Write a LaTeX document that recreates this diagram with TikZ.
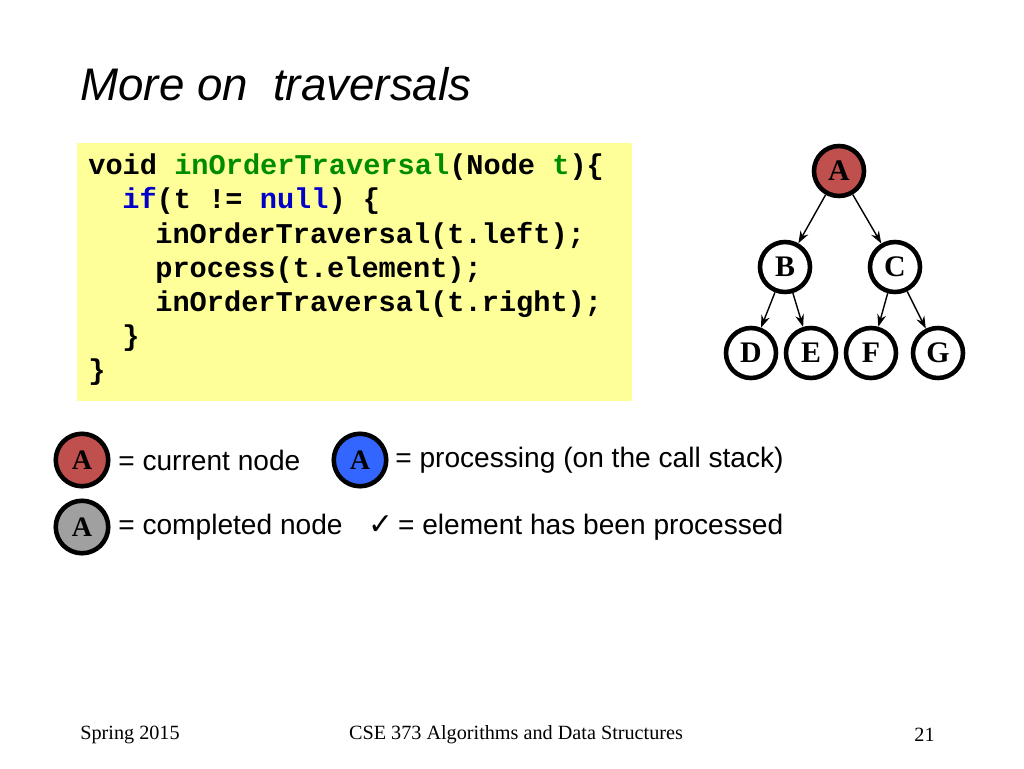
\documentclass[tikz,border=0pt]{standalone}
\usepackage{fontspec}
\setmainfont{Liberation Serif}
\setsansfont{Liberation Sans}
\setmonofont{Liberation Mono}
\usetikzlibrary{arrows.meta, positioning}
\definecolor{curred}{RGB}{192,80,77}
\definecolor{procblue}{RGB}{51,102,255}
\definecolor{donegray}{RGB}{160,160,160}
\definecolor{codebg}{RGB}{255,255,153}
\definecolor{kwblue}{RGB}{0,0,200}
\definecolor{fngreen}{RGB}{0,140,0}
\newcommand{\fn}[1]{\textcolor{fngreen}{#1}}
\newcommand{\kw}[1]{\textcolor{kwblue}{#1}}
\begin{document}
\begin{tikzpicture}[x=0.02cm, y=-0.02cm,
    tnode/.style={circle, draw=black, line width=2.6pt, fill=white, minimum size=1.0cm, inner sep=0pt, font=\fontsize{17}{17}\selectfont\bfseries},
    lnode/.style={tnode, minimum size=1.05cm, font=\fontsize{16}{16}\selectfont\bfseries},
    codeline/.style={anchor=west, inner sep=0pt, font=\fontsize{16.3}{19}\selectfont\ttfamily\bfseries},
    legend/.style={anchor=west, inner sep=0pt, font=\fontsize{16}{19}\selectfont\sffamily},
    edge/.style={-{Stealth[length=7pt, width=5pt]}, thick}
]
    \useasboundingbox (0,0) rectangle (1024,768);

    % title
    \node[anchor=west, inner sep=0pt, font=\fontsize{26}{28}\selectfont\sffamily\itshape] (title) at (80,84) {More on\ \ traversals};

    % code box
    \fill[codebg] (77,143) rectangle (632,401);
    \node[codeline] (c1) at (88,167) {void \fn{inOrderTraversal}(Node \fn{t})\{};
    \node[codeline] (c2) at (122,201) {\kw{if}(t != \kw{null}) \{};
    \node[codeline] (c3) at (155,236) {inOrderTraversal(t.left);};
    \node[codeline] (c4) at (155,270) {process(t.element);};
    \node[codeline] (c5) at (155,304) {inOrderTraversal(t.right);};
    \node[codeline] (c6) at (122,338) {\}};
    \node[codeline] (c7) at (88,372) {\}};

    % tree
    \node[tnode, fill=curred] (a) at (839,171) {A};
    \node[tnode] (b) at (785,267) {B};
    \node[tnode] (c) at (895,267) {C};
    \node[tnode] (d) at (751,353) {D};
    \node[tnode] (e) at (811,353) {E};
    \node[tnode] (f) at (871,353) {F};
    \node[tnode] (g) at (938,353) {G};
    \draw[edge] (a) -- (b);
    \draw[edge] (a) -- (c);
    \draw[edge] (b) -- (d);
    \draw[edge] (b) -- (e);
    \draw[edge] (c) -- (f);
    \draw[edge] (c) -- (g);

    % legend
    \node[lnode, fill=curred] (lcur) at (82,460) {A};
    \node[legend] (tcur) at (118,460) {= current node};
    \node[lnode, fill=procblue] (lproc) at (360,460) {A};
    \node[legend] (tproc) at (395,460) {= processing (on the call stack)};
    \node[lnode, fill=donegray] (ldone) at (82,527) {A};
    \node[legend] (tdone) at (118,527) {= completed node};
    \node[legend] (tchk) at (368,527) {{\fontspec{DejaVu Sans}\fontsize{17}{19}\selectfont ✓}\,= element has been processed};

    % footer
    \node[anchor=west, inner sep=0pt, font=\fontsize{11.5}{13}\selectfont] (fl) at (80,735) {Spring 2015};
    \node[inner sep=0pt, font=\fontsize{11.5}{13}\selectfont] (fc) at (516,735) {CSE 373 Algorithms and Data Structures};
    \node[anchor=east, inner sep=0pt, font=\fontsize{11.5}{13}\selectfont] (fr) at (935,735) {21};
\end{tikzpicture}
\end{document}
